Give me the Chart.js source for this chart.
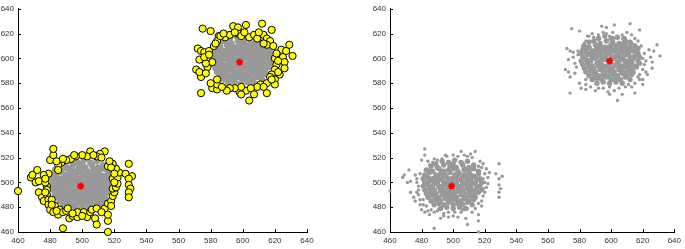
<!DOCTYPE html>
<html>
<head>
<meta charset="utf-8">
<script src="https://cdn.jsdelivr.net/npm/chart.js@4"></script>
<style>
    body { margin: 0; background: #fff; width: 685px; height: 249px; overflow: hidden; }
    canvas { position: absolute; top: 0; }
    #leftChart { left: 0; }
    #rightChart { left: 372px; }
</style>
</head>
<body>
<canvas id="leftChart" width="340" height="249"></canvas>
<canvas id="rightChart" width="313" height="249"></canvas>
<script>
// Axis ticks (both panels share them)
const tickValues = [460, 480, 500, 520, 540, 560, 580, 600, 620, 640];

// Cluster centres (red stars)
const leftCenters = [[499, 497], [598, 597]];
const rightCenters = [[499, 497], [599, 598]];

// Outlying points of cluster 1 (yellow on the left)
const outliers1 = [
    [460,493],[468,504],[469,506],[471,500],[473,501],[472,510],[473,492],[475,488],[476,485],[478,490],
    [479,486],[478,497],[478,494],[479,482],[480,478],[481,486],[483,481],[482,476],[486,478],[485,474],
    [488,476],[490,477],[492,471],[494,473],[497,472],[497,476],[501,476],[503,472],[505,476],[506,478],
    [508,471],[509,466],[509,479],[488,463],[516,460],[516,469],[516,474],[514,479],[516,483],[518,485],
    [519,489],[520,492],[519,495],[521,496],[522,499],[519,503],[522,504],[523,508],[521,511],[519,515],
    [516,513],[517,517],[514,525],[511,523],[509,521],[505,525],[503,521],[500,522],[496,521],[493,519],
    [490,518],[487,516],[485,514],[485,510],[480,518],[482,522],[482,527],[479,507],[476,506],[527,507],
    [529,515],[531,505],[529,503],[529,498],[530,495],[529,492],[529,488],[491,479],[484,517],[488,519],
    [495,522],[507,522],[512,520],[518,512],[520,507],[520,500],[518,481],[512,476],[500,473],[494,475],
    [484,477],[481,482],[477,492],[477,500],[477,503]
];

// Outlying points of cluster 2 (yellow on the left)
const outliers2 = [
    [575,624],[580,622],[594,626],[597,625],[602,627],[612,628],[618,623],[585,618],[589,617],[592,619],
    [597,620],[599,618],[604,617],[607,619],[609,616],[613,619],[615,616],[617,614],[615,611],[619,610],
    [613,612],[624,607],[627,606],[629,611],[631,602],[625,601],[626,597],[626,592],[620,600],[621,595],
    [620,591],[618,587],[623,587],[620,583],[617,585],[615,580],[620,579],[611,579],[609,577],[615,572],
    [607,571],[604,566],[602,574],[598,573],[599,577],[595,576],[592,576],[590,574],[599,571],[581,576],
    [584,575],[584,579],[584,583],[574,572],[574,585],[571,591],[573,589],[573,599],[572,608],[574,606],
    [576,605],[579,606],[578,593],[581,597],[577,588],[582,610],[584,614],[586,618],[588,620],[595,621],
    [601,621],[610,621],[621,604],[622,589],[618,583],[613,577],[605,576],[587,577],[580,580],[577,596],
    [576,601],[579,603],[583,612],[622,598]
];

// Core points of cluster 1
const core1 = [
    [493,517],[497,516],[501,518],[505,516],[489,515],[509,517],
    [486,513],[490,512],[494,514],[498,513],[502,512],[506,514],[510,512],[513,514],
    [483,510],[487,509],[491,511],[494,509],[497,510],[500,511],[503,509],[507,510],[510,509],[513,511],[516,509],
    [482,506],[485,508],[489,506],[492,507],[495,506],[498,508],[501,506],[504,507],[507,506],[510,507],[513,505],[516,507],
    [481,503],[484,504],[487,503],[490,505],[493,503],[496,504],[499,503],[502,505],[505,503],[508,504],[511,503],[514,504],[517,503],
    [482,500],[485,501],[488,500],[491,502],[494,500],[497,501],[500,500],[503,502],[506,500],[509,501],[512,500],[515,502],[518,500],
    [481,497],[484,498],[487,497],[490,499],[493,497],[496,498],[499,497],[502,499],[505,497],[508,498],[511,497],[514,499],[517,497],
    [482,494],[485,495],[488,494],[491,496],[494,494],[497,495],[500,494],[503,496],[506,494],[509,495],[512,494],[515,496],[518,494],
    [483,491],[486,492],[489,491],[492,493],[495,491],[498,492],[501,491],[504,493],[507,491],[510,492],[513,491],[516,492],
    [484,488],[487,489],[490,488],[493,490],[496,488],[499,489],[502,488],[505,490],[508,488],[511,489],[514,488],
    [486,485],[489,486],[492,485],[495,487],[498,485],[501,486],[504,485],[507,487],[510,485],[513,486],
    [488,482],[491,483],[494,482],[497,484],[500,482],[503,483],[506,482],[509,484],[512,482],
    [492,479],[496,480],[500,479],[504,480],[508,479],
    [495,499],[503,493],[489,503],[507,511],[498,488],[511,506],[486,496],[500,515],[493,509],[505,485],
    [514,493],[485,490],[501,504],[497,491],[509,499],[491,487]
];

// Core points of cluster 2
const core2 = [
    [592,616],[596,618],[600,616],[604,617],[608,616],
    [586,613],[589,614],[593,612],[597,614],[601,613],[605,612],[609,614],[612,613],
    [583,610],[586,609],[590,611],[593,610],[596,609],[600,611],[603,610],[606,609],[609,611],[612,609],[615,610],
    [582,607],[585,608],[588,606],[591,608],[594,607],[597,606],[600,608],[603,607],[606,606],[609,608],[612,607],[615,606],[617,608],
    [581,604],[584,605],[587,604],[590,606],[593,604],[596,605],[599,604],[602,606],[605,604],[608,605],[611,604],[614,606],[617,604],
    [582,601],[585,603],[588,601],[591,602],[594,601],[597,603],[600,601],[603,602],[606,601],[609,603],[612,601],[615,602],[618,601],
    [581,598],[584,599],[587,598],[590,600],[593,598],[596,599],[599,598],[602,600],[605,598],[608,599],[611,598],[614,600],[617,598],
    [582,595],[585,596],[588,594],[591,596],[594,595],[597,594],[600,596],[603,595],[606,594],[609,596],[612,595],[615,594],[618,596],
    [583,592],[586,593],[589,592],[592,594],[595,592],[598,593],[601,592],[604,594],[607,592],[610,593],[613,592],[616,593],
    [584,589],[587,590],[590,589],[593,591],[596,589],[599,590],[602,589],[605,591],[608,589],[611,590],[614,589],
    [586,586],[589,587],[592,586],[595,588],[598,586],[601,587],[604,586],[607,588],[610,586],[613,587],
    [588,583],[591,584],[594,583],[597,585],[600,583],[603,584],[606,583],[609,585],[612,583],
    [591,580],[595,581],[599,580],[603,581],[607,580],
    [598,609],[604,597],[590,603],[608,612],[595,587],[611,606],[586,598],[601,616],[593,607],[606,590],
    [613,597],[588,592],[600,605],[596,601],[609,594],[591,586]
];

const grayColor = '#999999';

function toXY(list) {
    return list.map(([x, y]) => ({ x, y }));
}

// MATLAB-like inward tick marks
const inwardTicks = {
    id: 'inwardTicks',
    afterDraw(chart) {
        const { ctx, chartArea, scales } = chart;
        ctx.save();
        ctx.strokeStyle = '#000';
        ctx.lineWidth = 1;
        ctx.beginPath();
        scales.x.ticks.forEach(t => {
            const px = Math.round(scales.x.getPixelForValue(t.value)) + 0.5;
            ctx.moveTo(px, chartArea.bottom);
            ctx.lineTo(px, chartArea.bottom - 3);
        });
        scales.y.ticks.forEach(t => {
            const py = Math.round(scales.y.getPixelForValue(t.value)) + 0.5;
            ctx.moveTo(chartArea.left, py);
            ctx.lineTo(chartArea.left + 3, py);
        });
        ctx.stroke();
        ctx.restore();
    }
};

function axis(isX) {
    return {
        type: 'linear',
        min: 460,
        max: 640,
        afterBuildTicks: s => { s.ticks = tickValues.map(v => ({ value: v })); },
        ticks: {
            autoSkip: false,
            maxRotation: 0,
            padding: 4,
            color: '#333',
            font: { family: 'Liberation Sans', size: 8 }
        },
        grid: { drawOnChartArea: false, drawTicks: false },
        border: { color: '#000', width: 1 },
        afterFit: s => {
            if (isX) s.height = 17; else s.width = 18;
        }
    };
}

function makeChart(id, datasets, rightPad) {
    return new Chart(document.getElementById(id), {
        type: 'scatter',
        data: { datasets },
        options: {
            responsive: false,
            animation: false,
            devicePixelRatio: 1,
            layout: { padding: { top: 7, right: rightPad, bottom: 0, left: 0 } },
            scales: { x: axis(true), y: axis(false) },
            plugins: { legend: { display: false }, tooltip: { enabled: false } }
        },
        plugins: [inwardTicks]
    });
}

const starStyle = {
    pointStyle: 'star', pointRadius: 3.5, pointBorderWidth: 1.8,
    borderColor: '#ff0000', backgroundColor: '#ff0000', clip: false
};

// Left panel: core in gray, outliers marked yellow
makeChart('leftChart', [
    { data: toXY(leftCenters), ...starStyle },
    {
        data: toXY([...outliers1, ...outliers2]), pointRadius: 3.6,
        backgroundColor: '#ffff00', borderColor: '#000', pointBorderWidth: 1, clip: false
    },
    {
        data: toXY([...core1, ...core2]), pointRadius: 3.2,
        backgroundColor: grayColor, borderColor: grayColor, pointBorderWidth: 0
    }
], 33);

// Right panel: all points in gray (dense core, sparse tails)
makeChart('rightChart', [
    { data: toXY(rightCenters), ...starStyle },
    {
        data: toXY([...outliers1, ...outliers2]), pointRadius: 1.7,
        backgroundColor: grayColor, borderColor: grayColor, pointBorderWidth: 0, clip: false
    },
    {
        data: toXY([...core1, ...core2]), pointRadius: 2.7,
        backgroundColor: grayColor, borderColor: grayColor, pointBorderWidth: 0
    }
], 8);
</script>
</body>
</html>
